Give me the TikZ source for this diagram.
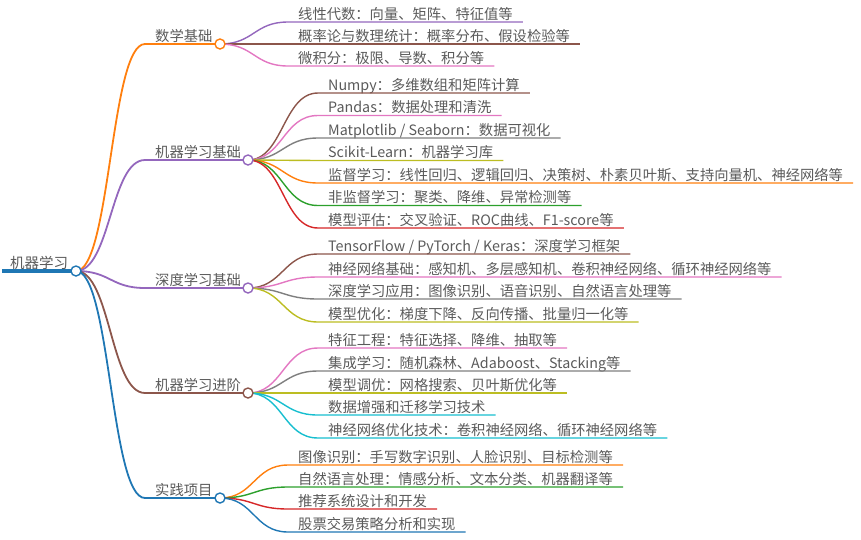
\documentclass[tikz,border=0pt]{standalone}
\usepackage{fontspec}
\setmainfont{Noto Sans CJK SC}
\usetikzlibrary{calc}
\definecolor{mmblue}{HTML}{1F77B4}
\definecolor{mmorange}{HTML}{FF7F0E}
\definecolor{mmgreen}{HTML}{2CA02C}
\definecolor{mmred}{HTML}{D62728}
\definecolor{mmpurple}{HTML}{9467BD}
\definecolor{mmbrown}{HTML}{8C564B}
\definecolor{mmpink}{HTML}{E377C2}
\definecolor{mmgray}{HTML}{7F7F7F}
\definecolor{mmolive}{HTML}{BCBD22}
\definecolor{mmcyan}{HTML}{17BECF}
\definecolor{mmtext}{HTML}{5A5A5A}
\tikzset{
	link/.style={
		to path={let \p1=(\tikztostart), \p2=(\tikztotarget) in
			.. controls ({(\x1+\x2)/2},\y1) and ({(\x1+\x2)/2},\y2) .. (\tikztotarget)}
	},
	topic/.style={
		inner sep=0pt,
		anchor=base west,
		text=mmtext,
		font=\fontsize{14.3}{16}\selectfont
	},
	leaf/.style={topic},
	dot/.style={
		circle,
		fill=white,
		line width=1.4pt,
		minimum size=10pt,
		inner sep=0pt
	},
	trunk/.style={line width=3.2pt},
	bough/.style={line width=1.8pt},
	twig/.style={line width=1.4pt}
}

\begin{document}
\begin{tikzpicture}[x=1pt,y=-1pt]
		\useasboundingbox (0,0) rectangle (861,539);
		% root and first level
		\node[topic,font=\fontsize{14.5}{16}\selectfont] (ml-t) at (10,268) {机器学习};
		\coordinate (ml) at (76,271);
		\coordinate (sx) at (220,44);
		\coordinate (jc) at (248,160);
		\coordinate (sd) at (248,288);
		\coordinate (jj) at (248,393);
		\coordinate (sj) at (220,498);
		\node[topic] (sx-t) at (155,41) {数学基础};
		\node[topic] (jc-t) at (155,157) {机器学习基础};
		\node[topic] (sd-t) at (155,285) {深度学习基础};
		\node[topic] (jj-t) at (155,390) {机器学习进阶};
		\node[topic] (sj-t) at (155,495) {实践项目};

		% leaves
		\node[leaf] (sx1) at (298,19) {线性代数：向量、矩阵、特征值等};
		\node[leaf] (sx2) at (298,41) {概率论与数理统计：概率分布、假设检验等};
		\node[leaf] (sx3) at (298,63) {微积分：极限、导数、积分等};

		\node[leaf] (jc1) at (328,90) {Numpy：多维数组和矩阵计算};
		\node[leaf] (jc2) at (328,112.5) {Pandas：数据处理和清洗};
		\node[leaf] (jc3) at (328,135) {Matplotlib / Seaborn：数据可视化};
		\node[leaf] (jc4) at (328,157.5) {Scikit-Learn：机器学习库};
		\node[leaf] (jc5) at (328,180) {监督学习：线性回归、逻辑回归、决策树、朴素贝叶斯、支持向量机、神经网络等};
		\node[leaf] (jc6) at (328,202.5) {非监督学习：聚类、降维、异常检测等};
		\node[leaf] (jc7) at (328,225) {模型评估：交叉验证、ROC曲线、F1-score等};

		\node[leaf] (sd1) at (328,251) {TensorFlow / PyTorch / Keras：深度学习框架};
		\node[leaf] (sd2) at (328,274) {神经网络基础：感知机、多层感知机、卷积神经网络、循环神经网络等};
		\node[leaf] (sd3) at (328,296) {深度学习应用：图像识别、语音识别、自然语言处理等};
		\node[leaf] (sd4) at (328,319) {模型优化：梯度下降、反向传播、批量归一化等};

		\node[leaf] (jj1) at (328,345) {特征工程：特征选择、降维、抽取等};
		\node[leaf] (jj2) at (328,368) {集成学习：随机森林、Adaboost、Stacking等};
		\node[leaf] (jj3) at (328,390) {模型调优：网格搜索、贝叶斯优化等};
		\node[leaf] (jj4) at (328,412) {数据增强和迁移学习技术};
		\node[leaf] (jj5) at (328,435) {神经网络优化技术：卷积神经网络、循环神经网络等};

		\node[leaf] (sj1) at (298,462) {图像识别：手写数字识别、人脸识别、目标检测等};
		\node[leaf] (sj2) at (298,484) {自然语言处理：情感分析、文本分类、机器翻译等};
		\node[leaf] (sj3) at (298,506) {推荐系统设计和开发};
		\node[leaf] (sj4) at (298,529) {股票交易策略分析和实现};

		% connectors
		\draw[trunk,mmblue] ([xshift=-8pt,yshift=-3pt]ml-t.base west) -- (ml);
		\draw[bough,mmorange] (ml) to[link] ([xshift=-10pt,yshift=-3pt]sx-t.base west) -- (sx);
		\draw[bough,mmpurple] (ml) to[link] ([xshift=-10pt,yshift=-3pt]jc-t.base west) -- (jc);
		\draw[bough,mmpurple] (ml) to[link] ([xshift=-10pt,yshift=-3pt]sd-t.base west) -- (sd);
		\draw[bough,mmbrown] (ml) to[link] ([xshift=-10pt,yshift=-3pt]jj-t.base west) -- (jj);
		\draw[bough,mmblue] (ml) to[link] ([xshift=-10pt,yshift=-3pt]sj-t.base west) -- (sj);

		\draw[twig,mmpurple] (sx) to[link] ([xshift=-10pt,yshift=-3pt]sx1.base west) -- ([xshift=10pt,yshift=-3pt]sx1.base east);
		\draw[twig,mmbrown] (sx) to[link] ([xshift=-10pt,yshift=-3pt]sx2.base west) -- ([xshift=10pt,yshift=-3pt]sx2.base east);
		\draw[twig,mmpink] (sx) to[link] ([xshift=-10pt,yshift=-3pt]sx3.base west) -- ([xshift=10pt,yshift=-3pt]sx3.base east);

		\draw[twig,mmbrown] (jc) to[link] ([xshift=-10pt,yshift=-3pt]jc1.base west) -- ([xshift=10pt,yshift=-3pt]jc1.base east);
		\draw[twig,mmpink] (jc) to[link] ([xshift=-10pt,yshift=-3pt]jc2.base west) -- ([xshift=10pt,yshift=-3pt]jc2.base east);
		\draw[twig,mmgray] (jc) to[link] ([xshift=-10pt,yshift=-3pt]jc3.base west) -- ([xshift=10pt,yshift=-3pt]jc3.base east);
		\draw[twig,mmolive] (jc) to[link] ([xshift=-10pt,yshift=-3pt]jc4.base west) -- ([xshift=10pt,yshift=-3pt]jc4.base east);
		\draw[twig,mmorange] (jc) to[link] ([xshift=-10pt,yshift=-3pt]jc5.base west) -- ([xshift=10pt,yshift=-3pt]jc5.base east);
		\draw[twig,mmgreen] (jc) to[link] ([xshift=-10pt,yshift=-3pt]jc6.base west) -- ([xshift=10pt,yshift=-3pt]jc6.base east);
		\draw[twig,mmred] (jc) to[link] ([xshift=-10pt,yshift=-3pt]jc7.base west) -- ([xshift=10pt,yshift=-3pt]jc7.base east);

		\draw[twig,mmbrown] (sd) to[link] ([xshift=-10pt,yshift=-3pt]sd1.base west) -- ([xshift=10pt,yshift=-3pt]sd1.base east);
		\draw[twig,mmpink] (sd) to[link] ([xshift=-10pt,yshift=-3pt]sd2.base west) -- ([xshift=10pt,yshift=-3pt]sd2.base east);
		\draw[twig,mmgray] (sd) to[link] ([xshift=-10pt,yshift=-3pt]sd3.base west) -- ([xshift=10pt,yshift=-3pt]sd3.base east);
		\draw[twig,mmolive] (sd) to[link] ([xshift=-10pt,yshift=-3pt]sd4.base west) -- ([xshift=10pt,yshift=-3pt]sd4.base east);

		\draw[twig,mmpink] (jj) to[link] ([xshift=-10pt,yshift=-3pt]jj1.base west) -- ([xshift=10pt,yshift=-3pt]jj1.base east);
		\draw[twig,mmgray] (jj) to[link] ([xshift=-10pt,yshift=-3pt]jj2.base west) -- ([xshift=10pt,yshift=-3pt]jj2.base east);
		\draw[twig,mmolive] (jj) to[link] ([xshift=-10pt,yshift=-3pt]jj3.base west) -- ([xshift=10pt,yshift=-3pt]jj3.base east);
		\draw[twig,mmcyan] (jj) to[link] ([xshift=-10pt,yshift=-3pt]jj4.base west) -- ([xshift=10pt,yshift=-3pt]jj4.base east);
		\draw[twig,mmcyan] (jj) to[link] ([xshift=-10pt,yshift=-3pt]jj5.base west) -- ([xshift=10pt,yshift=-3pt]jj5.base east);

		\draw[twig,mmorange] (sj) to[link] ([xshift=-10pt,yshift=-3pt]sj1.base west) -- ([xshift=10pt,yshift=-3pt]sj1.base east);
		\draw[twig,mmgreen] (sj) to[link] ([xshift=-10pt,yshift=-3pt]sj2.base west) -- ([xshift=10pt,yshift=-3pt]sj2.base east);
		\draw[twig,mmred] (sj) to[link] ([xshift=-10pt,yshift=-3pt]sj3.base west) -- ([xshift=10pt,yshift=-3pt]sj3.base east);
		\draw[twig,mmblue] (sj) to[link] ([xshift=-10pt,yshift=-3pt]sj4.base west) -- ([xshift=10pt,yshift=-3pt]sj4.base east);

		% circles on top
		\node[dot,draw=mmblue] (ml-c) at (ml) {};
		\node[dot,draw=mmorange] (sx-c) at (sx) {};
		\node[dot,draw=mmpurple] (jc-c) at (jc) {};
		\node[dot,draw=mmpurple] (sd-c) at (sd) {};
		\node[dot,draw=mmbrown] (jj-c) at (jj) {};
		\node[dot,draw=mmblue] (sj-c) at (sj) {};
	\end{tikzpicture}
\end{document}
